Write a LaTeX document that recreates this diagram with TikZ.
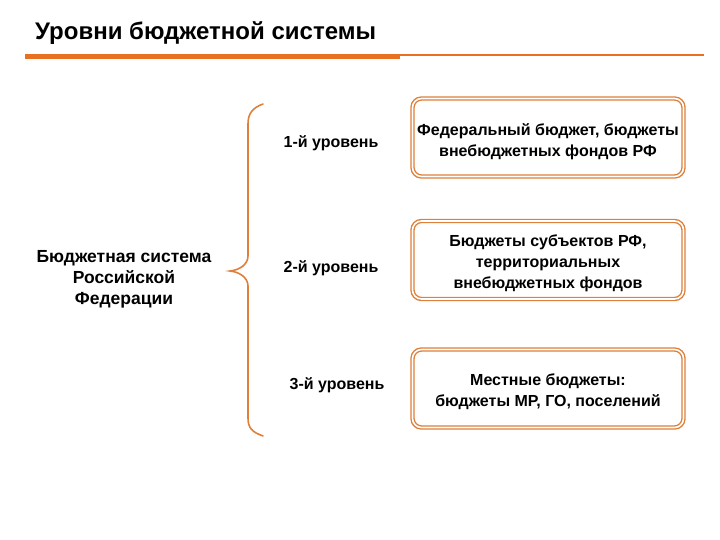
\documentclass[tikz,border=0pt]{standalone}
\usepackage{fontspec}
\setmainfont{Liberation Sans}
\usepackage{xcolor}
\usepackage{tikz}

\definecolor{rule}{RGB}{232,112,32}
\definecolor{frame}{RGB}{222,128,58}

\begin{document}
\begin{tikzpicture}[
  x=1pt, y=-1pt,
  level/.style={font=\fontsize{16}{21}\selectfont\bfseries, align=center, inner sep=0pt},
  fund/.style={draw=frame, double=white, line width=1.4pt, double distance=1.6pt, rounded corners=9pt,
    minimum width=271pt, minimum height=78pt},
  brace/.style={draw=frame, line width=1.6pt, line cap=round}
]
\useasboundingbox (0,0) rectangle (720,540);
% title
\node[anchor=base west, font=\fontsize{24}{28}\selectfont\bfseries, inner sep=0pt] (title) at (35,40) {Уровни бюджетной системы};
\draw[rule, line width=5pt] (25,57) -- (400,57);
\draw[rule, line width=2pt] (400,55.5) -- (704,55.5);
% left side
\node[level, font=\fontsize{17.5}{21}\selectfont\bfseries] (system) at (124,279) {Бюджетная система\\Российской\\Федерации};
\draw[brace] (263,104) .. controls (252,108) and (248,114) .. (248,124) -- (248,256)
  .. controls (248,264) and (240,270) .. (230,271)
  .. controls (240,272) and (248,278) .. (248,286) -- (248,418)
  .. controls (248,428) and (252,432) .. (263,436);
% levels
\node[level] (lvl1) at (331,143) {1-й уровень};
\node[level] (lvl2) at (331,268) {2-й уровень};
\node[level] (lvl3) at (337,385) {3-й уровень};
% budgets
\node[fund] (fed) at (548,137.5) {};
\node[fund] (reg) at (548,260) {};
\node[fund] (loc) at (548,388.5) {};
\node[level] (fedtext) at ([yshift=-4pt]fed.center) {Федеральный бюджет, бюджеты\\внебюджетных фондов РФ};
\node[level] (regtext) at ([yshift=-3pt]reg.center) {Бюджеты субъектов РФ,\\территориальных\\внебюджетных фондов};
\node[level] (loctext) at ([yshift=-3.5pt]loc.center) {Местные бюджеты:\\бюджеты МР, ГО, поселений};
\end{tikzpicture}
\end{document}
